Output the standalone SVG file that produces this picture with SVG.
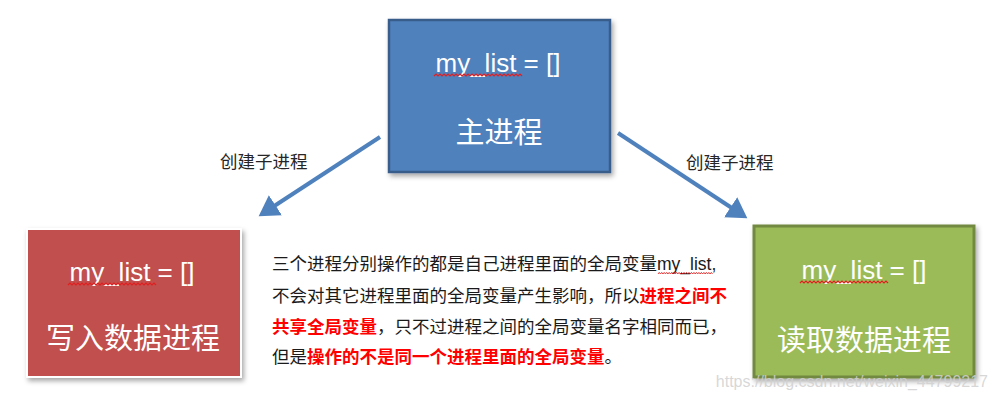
<svg xmlns="http://www.w3.org/2000/svg" xmlns:xlink="http://www.w3.org/1999/xlink" width="999" height="400" viewBox="0 0 999 400">
<style>
.lat{font-family:"Liberation Sans",Arial,sans-serif;fill:#fff;}
.cjk{font-family:"Noto Sans CJK SC","Noto Sans",sans-serif;}
.title{font-size:29px;fill:#fff;}
.body{font-size:17.5px;fill:#1a1a1a;}
.red{fill:#ff0000;font-weight:bold;}
.lbl{font-size:17.5px;fill:#262626;}
.conn{stroke:#4F81BD;stroke-width:4;fill:none;}
.sq{stroke:#e02020;stroke-width:1.2;fill:none;}
</style>
<defs>
<filter id="sh" x="-10%" y="-10%" width="125%" height="125%">
<feDropShadow dx="2" dy="3" stdDeviation="2.5" flood-color="#000" flood-opacity="0.35"/>
</filter>
<marker id="ah" markerWidth="6" markerHeight="6" refX="4" refY="3" orient="auto" markerUnits="strokeWidth">
<path d="M0,0 L5,3 L0,6 Z" fill="#4F81BD"/>
</marker>
<path id="wave" class="sq" d="M0,0 l2,-2 l2,2 l2,-2 l2,2 l2,-2 l2,2 l2,-2 l2,2 l2,-2 l2,2 l2,-2 l2,2 l2,-2 l2,2 l2,-2 l2,2 l2,-2 l2,2 l2,-2 l2,2 l2,-2 l2,2 l2,-2 l2,2 l2,-2 l2,2 l2,-2 l2,2 l2,-2 l2,2 l2,-2 l2,2 l2,-2 l2,2 l2,-2 l2,2 l2,-2 l2,2 l2,-2 l2,2 l2,-2 l2,2 l2,-2 l2,2"/>
</defs>

<g id="connectors">
<line class="conn" x1="380" y1="137" x2="262" y2="214" marker-end="url(#ah)"/>
<line class="conn" x1="618" y1="133" x2="744" y2="216" marker-end="url(#ah)"/>
<text class="cjk lbl" x="220" y="168">创建子进程</text>
<text class="cjk lbl" x="686" y="169">创建子进程</text>
</g>

<g id="main">
<rect x="389" y="20" width="221" height="152" fill="#4F81BD" stroke="#385D8A" stroke-width="2.5" filter="url(#sh)"/>
<text class="lat" x="498" y="72" font-size="26" text-anchor="middle">my_list = []</text>
<use xlink:href="#wave" transform="translate(434,76)"/>
<text class="cjk title" x="499" y="143" text-anchor="middle">主进程</text>
</g>

<g id="writer">
<rect x="27" y="229" width="214" height="148" fill="#C0504D" stroke="#ffffff" stroke-width="2" filter="url(#sh)"/>
<text class="lat" x="132" y="281" font-size="26" text-anchor="middle">my_list = []</text>
<use xlink:href="#wave" transform="translate(68,285)"/>
<text class="cjk title" x="133" y="349" text-anchor="middle">写入数据进程</text>
</g>

<g id="reader">
<rect x="754" y="226" width="220" height="151" fill="#9BBB59" stroke="#71893F" stroke-width="3" filter="url(#sh)"/>
<text class="lat" x="864" y="279" font-size="26" text-anchor="middle">my_list = []</text>
<use xlink:href="#wave" transform="translate(800,283)"/>
<text class="cjk title" x="864" y="351" text-anchor="middle">读取数据进程</text>
</g>

<g id="note">
<text class="cjk body" x="272" y="270">三个进程分别操作的都是自己进程里面的全局变量<tspan font-family="Liberation Sans, Arial, sans-serif">my_list,</tspan></text>
<use xlink:href="#wave" transform="translate(658,274) scale(0.62,0.8)"/>
<text class="cjk body" x="272" y="302">不会对其它进程里面的全局变量产生影响，所以<tspan class="red">进程之间不</tspan></text>
<text class="cjk body" x="272" y="333"><tspan class="red">共享全局变量</tspan>，只不过进程之间的全局变量名字相同而已，</text>
<text class="cjk body" x="272" y="363">但是<tspan class="red">操作的不是同一个进程里面的全局变量</tspan>。</text>
</g>

<text x="988" y="387" text-anchor="end" font-family="Liberation Sans, Arial, sans-serif" font-size="16" fill="#d0d0d0" fill-opacity="0.85">https://blog.csdn.net/weixin_44799217</text>
</svg>
